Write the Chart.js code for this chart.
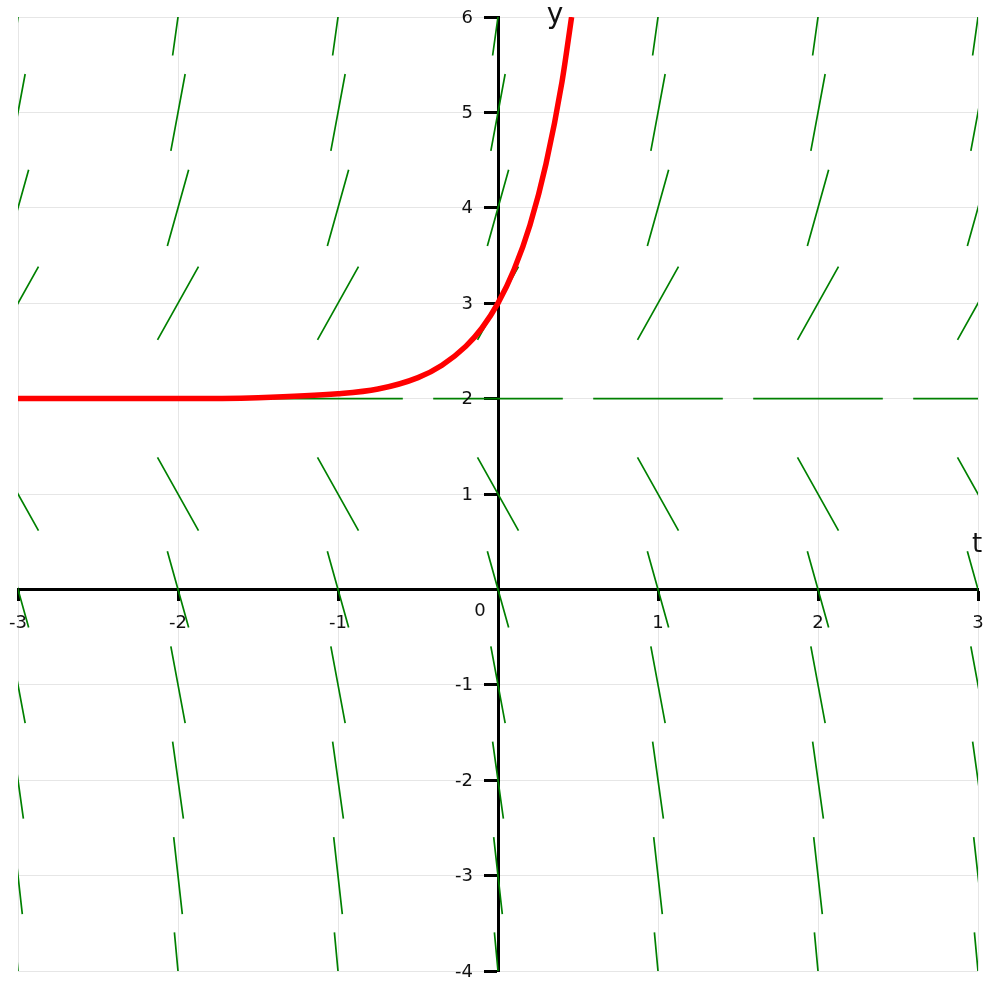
<!DOCTYPE html>
<html>
<head>
<meta charset="utf-8">
<script src="https://cdn.jsdelivr.net/npm/chart.js@4/dist/chart.umd.min.js"></script>
<style>
  html, body { margin: 0; padding: 0; background: #fff; }
  #wrap { width: 1000px; height: 986px; position: relative; }
</style>
</head>
<body>
<div id="wrap"><canvas id="field"></canvas></div>
<script>
// Slope field dy/dt = 3(y - 2) with the solution through (0, 3)

// grid of slope marks
const tValues = [-3, -2, -1, 0, 1, 2, 3];
const yLevels = [-4, -3, -2, -1, 0, 1, 2, 3, 4, 5, 6];
const slopes = [-18, -15, -12, -9, -6, -3, 0, 3, 6, 9, 12];

// solution curve
const curveT = [-3, -2, -1.5, -1, -0.75, -0.5, -0.35, -0.2, -0.1, 0, 0.1, 0.2, 0.3, 0.4, 0.46];
const curveY = [2.0, 2.0, 2.01, 2.05, 2.1, 2.22, 2.35, 2.55, 2.74, 3.0, 3.35, 3.82, 4.46, 5.32, 6.0];

// axis ranges
const tRange = [-3, 3];
const yRange = [-4, 6];

const HALF_LEN = 0.405; // half length of a slope mark, in data units

// Build slope segments as one line broken by nulls
function buildSegments() {
  const pts = [];
  yLevels.forEach((y, i) => {
    const m = slopes[i];
    const dx = HALF_LEN / Math.sqrt(1 + m * m);
    tValues.forEach(t => {
      pts.push({ x: t - dx, y: y - m * dx });
      pts.push({ x: t + dx, y: y + m * dx });
      pts.push({ x: t, y: null });
    });
  });
  return pts;
}

const curveData = curveT.map((t, i) => ({ x: t, y: curveY[i] }));

// Y tick labels (left of the centred axis), origin label and axis names
const axisLabels = {
  id: 'axisLabels',
  afterDraw(chart) {
    const ctx = chart.ctx;
    const xs = chart.scales.x;
    const ys = chart.scales.y;
    const ox = xs.getPixelForValue(0);
    const oy = ys.getPixelForValue(0);
    ctx.save();
    ctx.fillStyle = '#111';
    ctx.font = '18px "DejaVu Sans"';
    ctx.textAlign = 'right';
    ctx.textBaseline = 'middle';
    ys.ticks.forEach(tk => {
      if (tk.value === 0) return;
      ctx.fillText(String(tk.value), ox - 25, ys.getPixelForValue(tk.value) + 1);
    });
    ctx.textAlign = 'center';
    ctx.fillText('0', ox - 18, oy + 22);
    ctx.font = '28px "DejaVu Sans"';
    ctx.textBaseline = 'alphabetic';
    ctx.fillText('y', ox + 57, chart.chartArea.top + 6);
    ctx.font = '26px "DejaVu Sans"';
    ctx.fillText('t', chart.chartArea.right - 1, oy - 37);
    ctx.restore();
  }
};

const hideZero = v => (v === 0 ? '' : v);

new Chart(document.getElementById('field'), {
  type: 'scatter',
  data: {
    datasets: [
      {
        label: 'solution',
        data: curveData,
        showLine: true,
        borderColor: 'rgb(255, 0, 0)',
        borderWidth: 5.5,
        pointRadius: 0,
        cubicInterpolationMode: 'monotone',
        order: 0
      },
      {
        label: 'slopes',
        data: buildSegments(),
        showLine: true,
        spanGaps: false,
        borderColor: 'rgb(0, 128, 0)',
        borderWidth: 1.7,
        pointRadius: 0,
        order: 1
      }
    ]
  },
  options: {
    responsive: true,
    maintainAspectRatio: false,
    animation: false,
    layout: {
      padding: { left: 18, right: 22, top: 17, bottom: 15 }
    },
    plugins: {
      legend: { display: false },
      tooltip: { enabled: false }
    },
    scales: {
      x: {
        type: 'linear',
        min: tRange[0],
        max: tRange[1],
        position: { y: 0 },
        // labels may overhang the edges; keep the plot area fixed
        afterFit(scale) {
          scale.paddingLeft = 0;
          scale.paddingRight = 0;
        },
        grid: {
          color: 'rgb(230, 230, 230)',
          lineWidth: 1,
          tickColor: '#000',
          tickWidth: 3,
          tickLength: 10
        },
        border: { color: '#000', width: 3 },
        ticks: {
          stepSize: 1,
          color: '#111',
          padding: 13,
          maxRotation: 0,
          font: { family: 'DejaVu Sans', size: 18 },
          callback: hideZero
        }
      },
      y: {
        type: 'linear',
        min: yRange[0],
        max: yRange[1],
        position: { x: 0 },
        grid: {
          color: 'rgb(230, 230, 230)',
          lineWidth: 1,
          tickColor: '#000',
          tickWidth: 3,
          tickLength: 13
        },
        border: { color: '#000', width: 3 },
        ticks: {
          stepSize: 1,
          display: false
        }
      }
    }
  },
  plugins: [axisLabels]
});
</script>
</body>
</html>
